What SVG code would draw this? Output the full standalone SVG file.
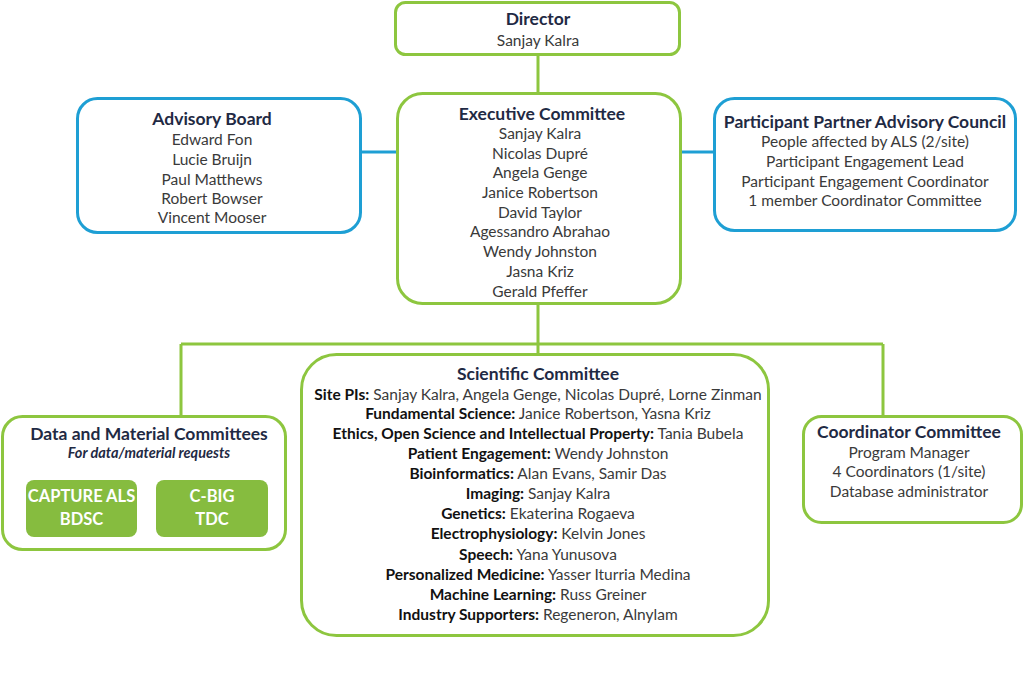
<svg xmlns="http://www.w3.org/2000/svg" width="1024" height="677" viewBox="0 0 1024 677">
<style>
.g{fill:#fff;stroke:#8dc63f;stroke-width:3}
.b{fill:#fff;stroke:#1e9fd4;stroke-width:3}
.gl{stroke:#8dc63f;stroke-width:3;fill:none}
.bl{stroke:#1e9fd4;stroke-width:3;fill:none}
text{font-family:Lato,"Open Sans","Liberation Sans",sans-serif;font-size:15.5px;fill:#3a3a3a;text-anchor:middle}
.t{font-weight:bold;font-size:17.5px;fill:#1f2a44}
.k{font-weight:bold;fill:#111}
.w{font-weight:bold;font-size:16.5px;fill:#fff}
.i{font-style:italic;font-weight:bold;font-size:14.5px;fill:#1f2a44}
</style>
<g id="connectors">
<path class="gl" d="M538 54V94"/>
<path class="bl" d="M361 152H397M681 152H714"/>
<path class="gl" d="M538 304V355M181 344H883M181 344V417M883 344V417"/>
</g>
<g id="director">
<rect class="g" x="395.5" y="2.5" width="284" height="52" rx="10"/>
<text class="t" x="538" y="25">Director</text>
<text x="538" y="46">Sanjay Kalra</text>
</g>
<g id="executive">
<rect class="g" x="397.5" y="93.5" width="283" height="210" rx="25"/>
<text class="t" x="542" y="120">Executive Committee</text>
<text x="540" y="139">Sanjay Kalra</text>
<text x="540" y="159">Nicolas Dupré</text>
<text x="540" y="178">Angela Genge</text>
<text x="540" y="198">Janice Robertson</text>
<text x="540" y="218">David Taylor</text>
<text x="540" y="237">Agessandro Abrahao</text>
<text x="540" y="257">Wendy Johnston</text>
<text x="540" y="277">Jasna Kriz</text>
<text x="540" y="297">Gerald Pfeffer</text>
</g>
<g id="advisory">
<rect class="b" x="77.5" y="98.5" width="283" height="134" rx="20"/>
<text class="t" x="212" y="125">Advisory Board</text>
<text x="212" y="145">Edward Fon</text>
<text x="212" y="165">Lucie Bruijn</text>
<text x="212" y="185">Paul Matthews</text>
<text x="212" y="204">Robert Bowser</text>
<text x="212" y="223">Vincent Mooser</text>
</g>
<g id="ppac">
<rect class="b" x="714.5" y="98.5" width="301" height="132" rx="20"/>
<text class="t" x="865" y="128">Participant Partner Advisory Council</text>
<text x="865" y="147">People affected by ALS (2/site)</text>
<text x="865" y="167">Participant Engagement Lead</text>
<text x="865" y="187">Participant Engagement Coordinator</text>
<text x="865" y="206">1 member Coordinator Committee</text>
</g>
<g id="scientific">
<rect class="g" x="301.5" y="354.5" width="467" height="281" rx="35"/>
<text class="t" x="538" y="380">Scientific Committee</text>
<text x="538" y="400"><tspan class="k">Site PIs:</tspan> Sanjay Kalra, Angela Genge, Nicolas Dupré, Lorne Zinman</text>
<text x="538" y="419"><tspan class="k">Fundamental Science:</tspan> Janice Robertson, Yasna Kriz</text>
<text x="538" y="439"><tspan class="k">Ethics, Open Science and Intellectual Property:</tspan> Tania Bubela</text>
<text x="538" y="459"><tspan class="k">Patient Engagement:</tspan> Wendy Johnston</text>
<text x="538" y="479"><tspan class="k">Bioinformatics:</tspan> Alan Evans, Samir Das</text>
<text x="538" y="499"><tspan class="k">Imaging:</tspan> Sanjay Kalra</text>
<text x="538" y="519"><tspan class="k">Genetics:</tspan> Ekaterina Rogaeva</text>
<text x="538" y="539"><tspan class="k">Electrophysiology:</tspan> Kelvin Jones</text>
<text x="538" y="560"><tspan class="k">Speech:</tspan> Yana Yunusova</text>
<text x="538" y="580"><tspan class="k">Personalized Medicine:</tspan> Yasser Iturria Medina</text>
<text x="538" y="600"><tspan class="k">Machine Learning:</tspan> Russ Greiner</text>
<text x="538" y="620"><tspan class="k">Industry Supporters:</tspan> Regeneron, Alnylam</text>
</g>
<g id="data">
<rect class="g" x="2.5" y="416.5" width="283" height="133" rx="20"/>
<text class="t" x="149" y="440">Data and Material Committees</text>
<text class="i" x="149" y="458">For data/material requests</text>
<g id="capture">
<rect x="26" y="480" width="111" height="57" rx="8" fill="#86bc3f"/>
<text class="w" x="81.5" y="502">CAPTURE ALS</text>
<text class="w" x="81.5" y="525">BDSC</text>
</g>
<g id="cbig">
<rect x="156" y="480" width="112" height="57" rx="8" fill="#86bc3f"/>
<text class="w" x="212" y="502">C-BIG</text>
<text class="w" x="212" y="525">TDC</text>
</g>
</g>
<g id="coordinator">
<rect class="g" x="803.5" y="416.5" width="218" height="106" rx="18"/>
<text class="t" x="909" y="438">Coordinator Committee</text>
<text x="909" y="458">Program Manager</text>
<text x="909" y="477">4 Coordinators (1/site)</text>
<text x="909" y="497">Database administrator</text>
</g>
</svg>
